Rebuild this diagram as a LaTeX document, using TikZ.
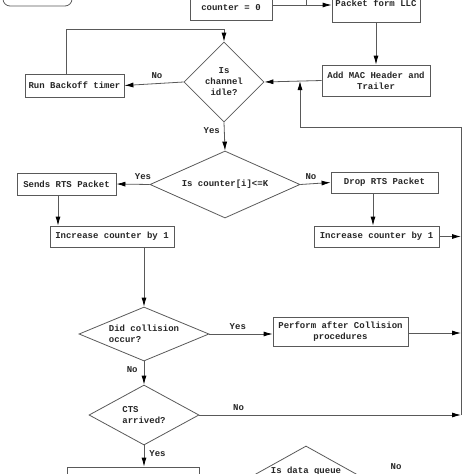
\documentclass[tikz,border=0pt]{standalone}
\usepackage{fontspec}
\setmonofont{Liberation Mono}
\usetikzlibrary{shapes.geometric,arrows.meta}
\begin{document}
\begin{tikzpicture}[x=1pt,y=-1pt,
  line width=0.8pt,
  every node/.style={font=\ttfamily\bfseries\fontsize{9}{11}\selectfont, text=black!85},
  boxnode/.style={draw=black!65, rectangle, inner sep=0pt, align=center},
  decision/.style={draw=black!65, diamond, inner sep=0pt, align=center},
  conn/.style={draw=black!65, -{Latex[length=9pt,width=5pt,black]}},
  plain/.style={draw=black!65},
  lbl/.style={inner sep=0pt}]
\useasboundingbox (0,0) rectangle (474,474);
% boxes
\node[boxnode, rounded corners=7pt, minimum width=69pt, minimum height=30pt] (startbox) at (37.5,-9) {};
\node[boxnode, minimum width=82pt, minimum height=40pt] (init) at (231,0) {};
\node[lbl] (inittxt) at (231,8) {counter = 0};
\node[boxnode, minimum width=88pt, minimum height=42pt] (packet) at (376,1) {};
\node[lbl] (packettxt) at (376,3) {Packet form LLC};
\node[boxnode, minimum width=108pt, minimum height=31pt] (addmac) at (376,80.5) {Add MAC Header and\\Trailer};
\node[boxnode, minimum width=99pt, minimum height=23pt] (backoff) at (74.5,85.5) {Run Backoff timer};
\node[decision, shape aspect=1, minimum width=80pt, minimum height=80pt] (channel) at (224,82) {Is\\channel\\idle?};
\node[decision, shape aspect=2.24, minimum width=150pt, minimum height=67pt] (counter) at (225,184.5) {Is counter[i]<=K};
\node[boxnode, minimum width=99pt, minimum height=22pt] (sendrts) at (66.5,184) {Sends RTS Packet};
\node[boxnode, minimum width=107pt, minimum height=21pt] (droprts) at (384.5,182.5) {Drop RTS Packet};
\node[boxnode, minimum width=124pt, minimum height=21pt] (incL) at (112,236.5) {Increase counter by 1};
\node[boxnode, minimum width=125pt, minimum height=21pt] (incR) at (376.5,236.5) {Increase counter by 1};
\node[decision, shape aspect=2.4, minimum width=130pt, minimum height=54pt, align=left] (collision) at (144,334) {Did collision\\occur?};
\node[boxnode, minimum width=135pt, minimum height=29pt] (perform) at (340.5,331.5) {Perform after Collision\\procedures};
\node[decision, shape aspect=1.83, minimum width=110pt, minimum height=60pt, align=left] (cts) at (144,415) {CTS\\arrived?};
\node[boxnode, minimum width=132pt, minimum height=24pt] (sendbox) at (133,479) {};
\node[decision, minimum width=140pt, minimum height=78pt] (queue) at (306,485) {};
\node[lbl] (queuetxt) at (306,471) {Is data queue};
% coordinates
\coordinate (jn) at (300,81);
\coordinate (busT) at (461,127);
\coordinate (busJ) at (300,127);
\coordinate (busR) at (461,236.5);
\coordinate (busP) at (461,333);
\coordinate (busC) at (461,415);
\coordinate (tick) at (306,-6);
\coordinate (tickb) at (306,5);
\coordinate (loopA) at (66,29);
\coordinate (loopB) at (224,29);
% connectors
\draw[conn] (init.east |- 0,5) -- (packet.west |- 0,5);
\draw[plain] (tick) -- (tickb);
\draw[conn] (packet.south) -- (addmac.north);
\draw[conn] (addmac.west) -- (channel.east);
\draw[conn] (busC) -- (busT) -- (busJ) -- (jn);
\draw[conn] (channel.west) -- (backoff.east) node[lbl, pos=0.45, above=5pt] (no1) {No};
\draw[conn] (backoff.north -| loopA) -- (loopA) -- (loopB) -- (channel.north);
\draw[conn] (channel.south) -- (counter.north) node[lbl, pos=0.3, left=4pt] (yes1) {Yes};
\draw[conn] (counter.west) -- (sendrts.east) node[lbl, pos=0.2, above=4pt] (yes2) {Yes};
\draw[conn] (counter.east) -- (droprts.west) node[lbl, pos=0.35, above=4pt] (no2) {No};
\draw[conn] (sendrts.south -| 58,0) -- (incL.north -| 58,0);
\draw[conn] (droprts.south -| 373,0) -- (incR.north -| 373,0);
\draw[conn] (incR.east) -- (busR);
\draw[conn] (incL.south -| collision.north) -- (collision.north);
\draw[conn] (collision.east) -- (perform.west |- collision.east) node[lbl, pos=0.45, above=4pt] (yes3) {Yes};
\draw[conn] (perform.east |- busP) -- (busP);
\draw[conn] (collision.south) -- (cts.north) node[lbl, pos=0.35, left=6pt] (no3) {No};
\draw[conn] (cts.east) -- (busC) node[lbl, pos=0.15, above=4pt] (no4) {No};
\draw[conn] (cts.south) -- (sendbox.north -| cts.south) node[lbl, pos=0.4, right=5pt] (yes4) {Yes};
\node[lbl] (no5) at (396,467) {No};
\end{tikzpicture}
\end{document}
